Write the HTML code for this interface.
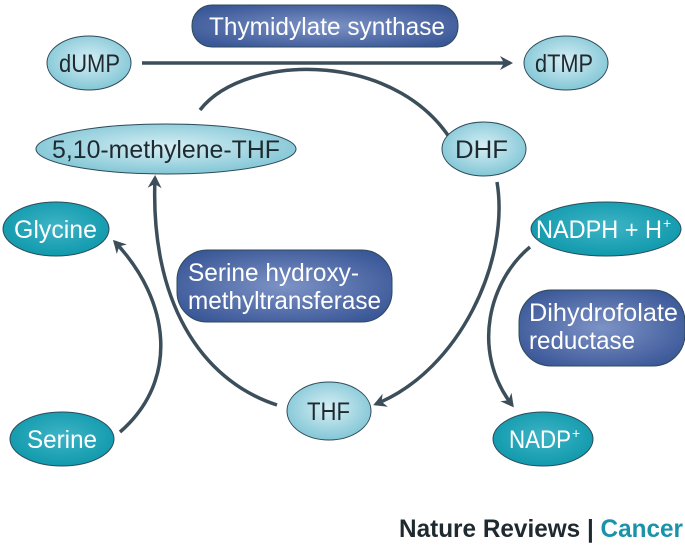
<!DOCTYPE html>
<html><head><meta charset="utf-8"><style>
html,body{margin:0;padding:0;background:#fff;}
svg{display:block;}
text{font-family:"Liberation Sans Narrow","Liberation Sans",sans-serif;}
</style></head><body>
<svg width="685" height="546" viewBox="0 0 685 546" xmlns="http://www.w3.org/2000/svg">
<defs>
<radialGradient id="lb" cx="50%" cy="45%" r="60%"><stop offset="0" stop-color="#d6eff5"/><stop offset="1" stop-color="#7cc3d3"/></radialGradient>
<radialGradient id="tl" cx="50%" cy="45%" r="60%"><stop offset="0" stop-color="#3fb4c6"/><stop offset="1" stop-color="#0c97aa"/></radialGradient>
<radialGradient id="db" cx="50%" cy="50%" r="60%"><stop offset="0" stop-color="#7d93c6"/><stop offset="1" stop-color="#3a5797"/></radialGradient>
<marker id="ah" markerWidth="16" markerHeight="16" refX="10" refY="7" orient="auto" markerUnits="userSpaceOnUse"><path d="M0,0 L13,7 L0,14 L4,7 Z" fill="#3b4e5a"/></marker>
</defs>
<g fill="none" stroke="#3b4e5a" stroke-width="3.5">
<path d="M142,63 L510,63" marker-end="url(#ah)"/>
<path d="M200,110 C245,52 405,48 458,152" marker-end="url(#ah)"/>
<path d="M497,182 C510,260 460,370 376,404" marker-end="url(#ah)"/>
<path d="M530,247 C490,280 470,350 512,405" marker-end="url(#ah)"/>
<path d="M277,405 C200,380 150,300 155,178" marker-end="url(#ah)"/>
<path d="M120,432 C180,380 170,300 115,242" marker-end="url(#ah)"/>
</g>
<g stroke="#2e4a5a" stroke-width="1">
<rect x="192" y="5" width="266" height="42" rx="20" fill="url(#db)"/>
<rect x="177" y="250" width="215" height="72" rx="30" fill="url(#db)"/>
<rect x="519" y="290" width="166" height="76" rx="32" fill="url(#db)"/>
<ellipse cx="89" cy="63" rx="42" ry="27" fill="url(#lb)"/>
<ellipse cx="566" cy="63" rx="42" ry="27" fill="url(#lb)"/>
<ellipse cx="166" cy="149" rx="130" ry="25" fill="url(#lb)"/>
<ellipse cx="484" cy="149" rx="42" ry="27" fill="url(#lb)"/>
<ellipse cx="56" cy="229" rx="53" ry="27" fill="url(#tl)"/>
<ellipse cx="606" cy="229" rx="75" ry="27" fill="url(#tl)"/>
<ellipse cx="329" cy="411" rx="42" ry="29" fill="url(#lb)"/>
<ellipse cx="62" cy="439" rx="52" ry="27" fill="url(#tl)"/>
<ellipse cx="543" cy="439" rx="50" ry="27" fill="url(#tl)"/>
</g>
<g font-size="25" fill="#1f2a30">
<text x="59" y="72" textLength="61" lengthAdjust="spacingAndGlyphs">dUMP</text>
<text x="535" y="72" textLength="58" lengthAdjust="spacingAndGlyphs">dTMP</text>
<text x="52" y="158" textLength="228" lengthAdjust="spacingAndGlyphs">5,10-methylene-THF</text>
<text x="455" y="158" textLength="53" lengthAdjust="spacingAndGlyphs">DHF</text>
<text x="307" y="420" textLength="43" lengthAdjust="spacingAndGlyphs">THF</text>
</g>
<g font-size="25" fill="#fff">
<text x="209" y="35" textLength="236" lengthAdjust="spacingAndGlyphs">Thymidylate synthase</text>
<text x="14" y="238" textLength="83" lengthAdjust="spacingAndGlyphs">Glycine</text>
<text x="536" y="238" textLength="126" lengthAdjust="spacingAndGlyphs">NADPH + H</text><text x="663" y="228" font-size="14">+</text>
<text x="27" y="448" textLength="70" lengthAdjust="spacingAndGlyphs">Serine</text>
<text x="509" y="448" textLength="62" lengthAdjust="spacingAndGlyphs">NADP</text><text x="572" y="438" font-size="14">+</text>
<text x="188" y="281" textLength="171" lengthAdjust="spacingAndGlyphs">Serine hydroxy-</text>
<text x="188" y="309" textLength="193" lengthAdjust="spacingAndGlyphs">methyltransferase</text>
<text x="529" y="321" textLength="149" lengthAdjust="spacingAndGlyphs">Dihydrofolate</text>
<text x="529" y="349" textLength="106" lengthAdjust="spacingAndGlyphs">reductase</text>
</g>
<text x="399" y="537" font-size="25" font-weight="bold" fill="#1f2a30" textLength="284" lengthAdjust="spacingAndGlyphs">Nature Reviews | <tspan fill="#1a93a8">Cancer</tspan></text>
</svg>
</body></html>
